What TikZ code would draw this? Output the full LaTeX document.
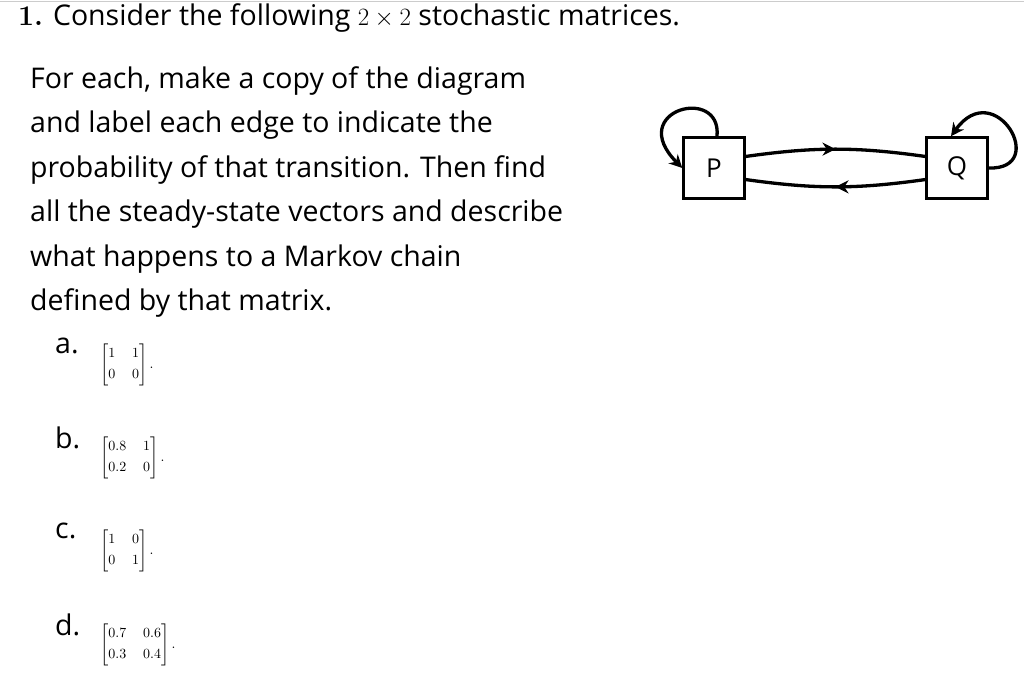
\documentclass[tikz,border=0pt]{standalone}
\usepackage{amsmath}
\usepackage{fontspec}
\setmainfont{Open Sans}
\usetikzlibrary{decorations.markings,arrows.meta}
\newfontfamily\lmr{Latin Modern Roman}
\begin{document}
\begin{tikzpicture}[x=1pt,y=-1pt,
  txt/.style={anchor=west,inner sep=0pt,font=\fontsize{28.5}{44.5}\selectfont},
  st/.style={draw,line width=2.5pt,minimum size=61pt,inner sep=0pt,font=\fontsize{26}{26}\selectfont},
  mid/.style={decoration={markings,mark=at position 0.5 with {\arrow{Stealth[length=13pt,width=13pt]}}},postaction=decorate},
  edge/.style={line width=3.3pt}]
\useasboundingbox (0,0) rectangle (1024,689);
\draw[gray!40,line width=0.8pt] (0,1) -- (1024,1);
\node[txt] (title) at (18,18) {{\lmr\bfseries 1.} Consider the following $2\times2$ stochastic matrices.};
\node[txt,align=left,anchor=north west] (para) at (30,66) {For each, make a copy of the diagram\\and label each edge to indicate the\\probability of that transition. Then find\\all the steady-state vectors and describe\\what happens to a Markov chain\\defined by that matrix.};
\node[st] (P) at (714,168) {P};
\node[st] (Q) at (957,168) {Q};
\draw[edge,mid] (P.20) to[bend left=8] (Q.160);
\draw[edge,mid] (Q.200) to[bend left=8] (P.340);
\draw[edge,-{Stealth[length=13pt,width=13pt]}] ([xshift=3pt]P.north) .. controls (722,85) and (625,110) .. (P.west);
\draw[edge,-{Stealth[length=13pt,width=13pt]}] (Q.east) .. controls (1050,170) and (995,75) .. ([xshift=-6pt]Q.north);
\tikzset{lab/.style={anchor=west,inner sep=0pt,font=\fontsize{28.5}{34}\selectfont},
 mat/.style={anchor=west,inner sep=0pt,scale=1.4,transform shape,font=\setlength{\arraycolsep}{6pt}}}
\node[lab] (la) at (55,346) {a.};
\node[mat] (ma) at (100,365) {$\left[\begin{matrix}1&1\\[3pt]0&0\end{matrix}\right].$};
\node[lab] (lb) at (55,438) {b.};
\node[mat] (mb) at (100,458) {$\left[\begin{matrix}0.8&1\\[3pt]0.2&0\end{matrix}\right].$};
\node[lab] (lc) at (55,531) {c.};
\node[mat] (mc) at (100,551) {$\left[\begin{matrix}1&0\\[3pt]0&1\end{matrix}\right].$};
\node[lab] (ld) at (55,625) {d.};
\node[mat] (md) at (100,645) {$\left[\begin{matrix}0.7&0.6\\[3pt]0.3&0.4\end{matrix}\right].$};
\end{tikzpicture}
\end{document}
